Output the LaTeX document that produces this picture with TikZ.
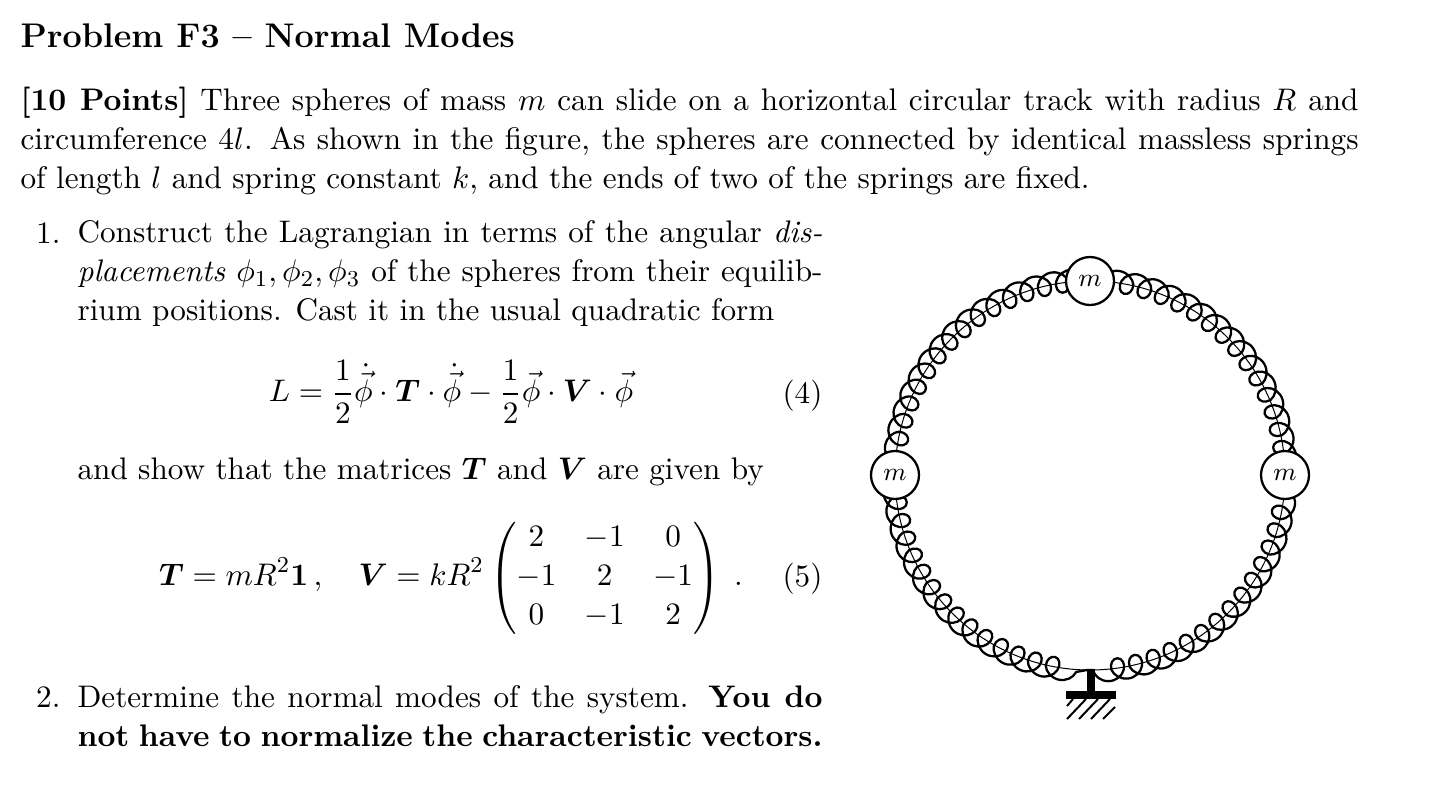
\documentclass[tikz,border=0pt]{standalone}
\usepackage{amsmath,amssymb}
\usepackage{bm}
\usetikzlibrary{backgrounds,calc,decorations.pathmorphing}
\def\pxu{0.351pt}
\tikzstyle{every node}=[font=\fontsize{10.95}{13.7}\selectfont]
\tikzstyle{textline}=[anchor=north west,inner sep=0pt,align=justify]
\tikzstyle{mass}=[circle,draw=black,fill=white,line width=0.8pt,minimum size=48*\pxu,inner sep=0pt,font=\small]
\tikzstyle{track}=[line width=0.35pt,black]
\tikzstyle{spring}=[line width=0.8pt,black,decorate,decoration={coil,mirror,aspect=0.95,amplitude=4pt,segment length=6.5pt,pre length=1pt,post length=1pt}]
\tikzstyle{hatch}=[line width=0.7pt,black]
\begin{document}
\begin{tikzpicture}[x=\pxu,y=-\pxu]
\useasboundingbox (0,0) rectangle (1431,802);

	% Text
	\node[anchor=base west,inner sep=0pt,font=\fontsize{12}{14.5}\selectfont\bfseries] (title) at (20,47) {Problem F3 -- Normal Modes};
	\node[textline,text width=1338*\pxu] (intro) at (20,86.5) {\textbf{[10 Points]} Three spheres of mass $m$ can slide on a horizontal circular track with radius $R$ and\linebreak circumference $4l$. As shown in the figure, the spheres are connected by identical massless springs\linebreak of length $l$ and spring constant $k$, and the ends of two of the springs are fixed.};

	\node[anchor=base east,inner sep=0pt] (num1) at (61,243) {1.};
	\node[textline,text width=745*\pxu] (item1) at (77,220) {Construct the Lagrangian in terms of the angular \emph{dis-}\linebreak \emph{placements} $\phi_1,\phi_2,\phi_3$ of the spheres from their equilib-\linebreak rium positions. Cast it in the usual quadratic form};

	% Equations
	\node[inner sep=0pt] (eqL) at (451,392) {$\displaystyle L=\frac{1}{2}\dot{\vec{\phi}}\cdot\bm{T}\cdot\dot{\vec{\phi}}-\frac{1}{2}\vec{\phi}\cdot\bm{V}\cdot\vec{\phi}$};
	\node[anchor=base east,inner sep=0pt] (num4) at (823,403) {(4)};
	\node[anchor=base west,inner sep=0pt] (item1b) at (77,479) {and show that the matrices $\bm{T}$ and $\bm{V}$ are given by};
	\node[inner sep=0pt] (eqTV) at (451,578) {$\displaystyle \bm{T}=mR^2\mathbf{1}\,,\quad \bm{V}=kR^2\begin{pmatrix}2&-1&0\\-1&2&-1\\0&-1&2\end{pmatrix}\;.$};
	\node[anchor=base east,inner sep=0pt] (num5) at (823,586) {(5)};

	\node[anchor=base east,inner sep=0pt] (num2) at (61,707) {2.};
	\node[textline,text width=745*\pxu] (item2) at (77,685) {Determine the normal modes of the system. \textbf{You do}\linebreak \textbf{not have to normalize the characteristic vectors.}};

	% Masses
	\node[mass] (Mtop) at (1090,281) {$m$};
	\node[mass] (Mleft) at (895,475) {$m$};
	\node[mass] (Mright) at (1285,475) {$m$};
	\coordinate (fix) at (1090,670);

	% Track and springs
	\begin{scope}[on background layer]
	\foreach \source / \dest in {Mtop/Mleft,Mleft/fix,fix/Mright,Mright/Mtop} {
		\draw[track] (\source.center) to[bend right=45] (\dest.center);
		\draw[spring] (\source.center) to[bend right=45] (\dest.center);
	}
	\end{scope}

	% Wall
	\node[fill=black,inner sep=0pt,minimum width=8*\pxu,minimum height=22*\pxu] (stem) at (1091,680) {};
	\node[fill=black,inner sep=0pt,minimum width=50*\pxu,minimum height=8*\pxu] (bar) at (1091,695) {};
	\draw[hatch] (1067,706) -- (1073,699);
	\foreach \x in {1067,1079,1091}
		\draw[hatch] (\x,719) -- ++(19,-20);
	\draw[hatch] (1103,719) -- (1115,707);
\end{tikzpicture}
\end{document}
